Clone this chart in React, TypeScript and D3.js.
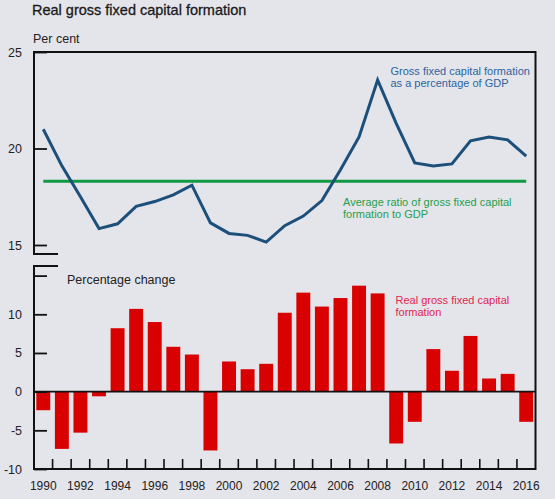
import { useEffect, useRef } from "react"
import * as d3 from "d3"

const years = d3.range(1990, 2017)

// gross fixed capital formation, % of GDP
const gfcfShare = [
  21.0, 19.1, 17.5, 15.85, 16.1, 17.0, 17.25, 17.6, 18.1, 16.15, 15.6, 15.5, 15.15, 16.0,
  16.5, 17.3, 18.9, 20.6, 23.55, 21.3, 19.25, 19.1, 19.2, 20.4, 20.6, 20.45, 19.6,
]

const averageShare = 18.3

// real gross fixed capital formation, percentage change
const realGrowth = [
  -2.4, -7.4, -5.3, -0.6, 8.2, 10.7, 9.0, 5.8, 4.8, -7.6, 3.9, 2.9, 3.6, 10.2, 12.8, 11.0,
  12.1, 13.7, 12.7, -6.7, -3.9, 5.5, 2.7, 7.2, 1.7, 2.3, -3.9,
]

const topTicks = [15, 20, 25]
const bottomTicks = [-10, -5, 0, 5, 10, 15]
const yearLabels = d3.range(1990, 2017, 2)

const W = 555
const H = 499
const font = "'Liberation Sans', Arial, Helvetica, sans-serif"

export default function App() {
  const svgRef = useRef<SVGSVGElement>(null)

  useEffect(() => {
    if (!svgRef.current) return
    const svg = d3.select(svgRef.current)
    svg.selectAll("*").remove()

    const left = 34
    const right = 535.5
    const topY0 = 52
    const topY1 = 254
    const botY0 = 266
    const botY1 = 469

    svg.append("rect").attr("width", W).attr("height", H).attr("fill", "#e4e4eb")

    const x = d3.scaleBand<number>().domain(years).range([left, right]).padding(0)
    const xc = (y: number) => (x(y) || 0) + x.bandwidth() / 2

    const yTop = d3.scaleLinear().domain([15, 25]).range([245, topY0])
    const yBot = d3.scaleLinear().domain([-10, 10]).range([botY1, 314.3])

    // titles
    svg.append("text")
      .attr("x", 32).attr("y", 14.5)
      .style("font-family", font).style("font-size", "14.5px")
      .attr("fill", "#1a1a1a").attr("stroke", "#1a1a1a").attr("stroke-width", 0.3)
      .text("Real gross fixed capital formation")

    svg.append("text")
      .attr("x", 33).attr("y", 42.5)
      .style("font-family", font).style("font-size", "12.5px")
      .attr("fill", "#222")
      .text("Per cent")

    // green average line
    svg.append("line")
      .attr("x1", xc(1990)).attr("x2", xc(2016))
      .attr("y1", yTop(averageShare)).attr("y2", yTop(averageShare))
      .attr("stroke", "#119a45").attr("stroke-width", 3)

    // blue line
    const line = d3.line<number>()
      .x((_, i) => xc(years[i]))
      .y((d) => yTop(d))
    svg.append("path")
      .datum(gfcfShare)
      .attr("d", line)
      .attr("fill", "none")
      .attr("stroke", "#1c4f7a")
      .attr("stroke-width", 3)
      .attr("stroke-linejoin", "miter")

    // bars
    const bw = x.bandwidth() * 0.75
    svg.append("g")
      .selectAll("rect")
      .data(realGrowth)
      .enter()
      .append("rect")
      .attr("x", (_, i) => xc(years[i]) - bw / 2)
      .attr("width", bw)
      .attr("y", (d) => yBot(Math.max(0, d)))
      .attr("height", (d) => Math.abs(yBot(d) - yBot(0)))
      .attr("fill", "#d90000")

    // zero line
    svg.append("line")
      .attr("x1", left).attr("x2", right)
      .attr("y1", yBot(0)).attr("y2", yBot(0))
      .attr("stroke", "#111").attr("stroke-width", 1.6)

    // axes
    const gTop = svg.append("g").attr("transform", `translate(${left},0)`)
      .call(d3.axisLeft(yTop).tickValues(topTicks).tickSize(-13).tickPadding(12))
    const gBot = svg.append("g").attr("transform", `translate(${left},0)`)
      .call(
        d3.axisLeft(yBot).tickValues(bottomTicks).tickSize(-13).tickPadding(12)
          .tickFormat((d) => (d === 15 ? "" : String(d)))
      )
    ;[gTop, gBot].forEach((g) => {
      g.select(".domain").remove()
      g.selectAll(".tick line").attr("stroke", "#111").attr("stroke-width", 1.8)
      g.selectAll(".tick text")
        .style("font-family", font).style("font-size", "12.5px").attr("fill", "#222")
    })

    const gx = svg.append("g").attr("transform", `translate(0,${botY1})`)
      .call(
        d3.axisBottom(x).tickValues(yearLabels).tickSize(0).tickPadding(12)
      )
    gx.select(".domain").remove()
    gx.selectAll(".tick text")
      .style("font-family", font).style("font-size", "12px").attr("fill", "#222")

    // ticks between years
    svg.append("g")
      .selectAll("line")
      .data(years.slice(1))
      .enter()
      .append("line")
      .attr("x1", (d) => x(d) || 0).attr("x2", (d) => x(d) || 0)
      .attr("y1", botY1).attr("y2", botY1 - 10)
      .attr("stroke", "#111").attr("stroke-width", 1.6)

    // frame with the broken left axis
    const frame = svg.append("g").attr("fill", "none").attr("stroke", "#111").attr("stroke-width", 2)
    frame.append("path").attr("d", `M${left + 24},${topY1}H${left}V${topY0}H${right}V${botY1}H${left}V${botY0}H${left + 24}`)

    // labels
    const label = (lines: string[], lx: number, ly: number, color: string) => {
      const t = svg.append("text")
        .attr("x", lx).attr("y", ly)
        .style("font-family", font).style("font-size", "11px")
        .attr("fill", color)
      lines.forEach((s, i) => t.append("tspan").attr("x", lx).attr("dy", i === 0 ? 0 : 12).text(s))
    }
    label(["Gross fixed capital formation", "as a percentage of GDP"], 390.5, 75, "#2c64a0")
    label(["Average ratio of gross fixed capital", "formation to GDP"], 343, 205.5, "#1fa04c")
    label(["Real gross fixed capital", "formation"], 395.5, 304, "#e0264e")

    svg.append("text")
      .attr("x", 67).attr("y", 284)
      .style("font-family", font).style("font-size", "12.5px")
      .attr("fill", "#222")
      .text("Percentage change")
  }, [])

  return (
    <svg
      ref={svgRef}
      width={W}
      height={H}
      style={{ position: "absolute", left: 0, top: 0, display: "block" }}
    />
  )
}
